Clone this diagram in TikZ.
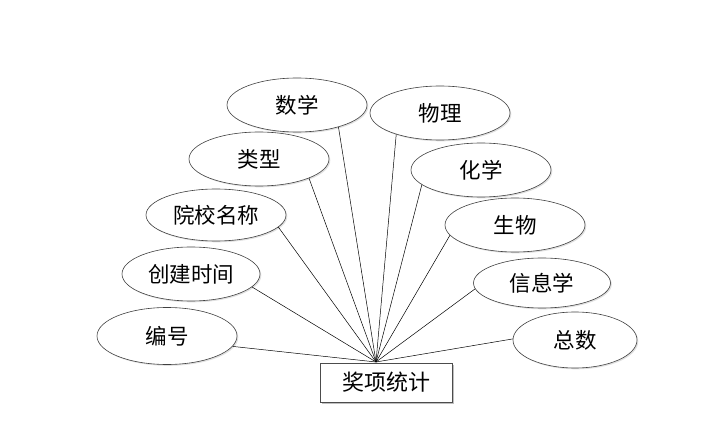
\documentclass[tikz,border=0pt]{standalone}
\usepackage{fontspec}
\newfontfamily\cjk{Noto Sans CJK SC}
\usetikzlibrary{shapes.geometric,shadows}
\begin{document}
\begin{tikzpicture}[x=1pt,y=-1pt,
  attr/.style={ellipse, draw=black!75, line width=0.6pt, fill=white, inner sep=0pt,
    minimum width=140pt, minimum height=54pt,
    font=\cjk\fontsize{21.5}{21.5}\selectfont,
    drop shadow={shadow xshift=1.3pt, shadow yshift=-1.3pt, fill=black!12, opacity=1}},
  ent/.style={rectangle, draw=black!70, line width=0.8pt, fill=white, inner sep=0pt,
    minimum width=132pt, minimum height=39pt,
    font=\cjk\fontsize{22}{22}\selectfont,
    drop shadow={shadow xshift=1.5pt, shadow yshift=-1.5pt, fill=black!25, opacity=1}},
  link/.style={draw=black, line width=0.5pt}]
\useasboundingbox (0,0) rectangle (716,428);
\fill[white] (0,0) rectangle (716,428);

\node[ent] (main) at (386,382.5) {奖项统计};
\coordinate (hub) at (376,362);

\node[attr] (shuxue) at (297,105) {数学};
\node[attr] (leixing) at (259,159) {类型};
\node[attr, minimum height=52pt] (yuanxiao) at (216,215) {院校名称};
\node[attr, minimum width=138pt] (chuangjian) at (191,274) {创建时间};
\node[attr, minimum height=57pt] (bianhao) at (167,336) {编号};
\node[attr] (wuli) at (440,113) {物理};
\node[attr] (huaxue) at (481,170) {化学};
\node[attr] (shengwu) at (515,225) {生物};
\node[attr, minimum width=137pt, minimum height=50pt] (xinxi) at (542,283) {信息学};
\node[attr, minimum width=124pt, minimum height=56pt] (zongshu) at (575,340) {总数};

\draw[link] (shuxue.-28) -- (hub);
\draw[link] (leixing.-21.6) -- (hub);
\draw[link] (yuanxiao.-11.5) -- (hub);
\draw[link] (chuangjian.-12.7) -- (hub);
\draw[link] (bianhao.-9) -- (hub);
\draw[link] (wuli.206) -- (hub);
\draw[link] (huaxue.194) -- (hub);
\draw[link] (shengwu.189) -- (hub);
\draw[link] (xinxi.185) -- (hub);
\draw[link] (zongshu.179) -- (hub);
\end{tikzpicture}
\end{document}
